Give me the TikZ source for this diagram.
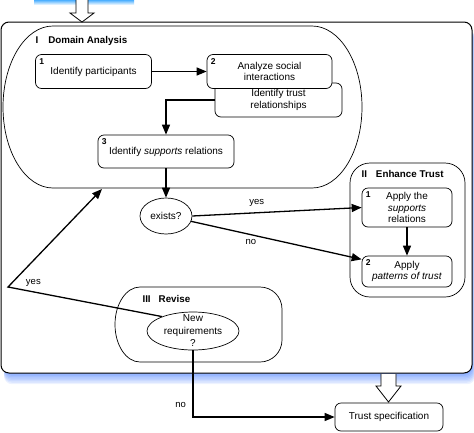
\documentclass[tikz,border=0pt]{standalone}
\usepackage{fontspec}
\setmainfont{Liberation Sans}
\usetikzlibrary{arrows.meta,
                shapes.geometric}

\tikzset{
    frame/.style = {draw, fill=white, line width=1pt, rounded corners=8pt},
    glow/.style = {fill=blue!70!cyan, opacity=0.07, rounded corners=8pt},
    phase/.style = {draw, line width=0.7pt},
    title/.style = {anchor=west, font=\bfseries\fontsize{9.8}{11}\selectfont},
    task/.style = {draw, fill=white, rounded corners=6pt, line width=0.7pt,
                   align=center, inner sep=2pt},
    decide/.style = {draw, ellipse, fill=white, line width=0.7pt,
                     align=center, inner sep=0pt},
    num/.style = {anchor=north west, inner sep=1pt, xshift=3pt, yshift=-3pt,
                  font=\bfseries\fontsize{8.5}{9}\selectfont},
    flow/.style = {line width=1.3pt, -{Triangle[length=10pt, width=8pt, fill=black]}},
    hollow/.style = {draw, fill=white, line width=0.8pt, line join=miter},
    lbl/.style = {font=\fontsize{9.5}{10}\selectfont}
}

\begin{document}
\begin{tikzpicture}[x=1pt, y=-1pt, font=\fontsize{10}{11.8}\selectfont]
        \useasboundingbox (0,0) rectangle (474,432);

        \shade [top color=blue!45!cyan!70, bottom color=white] (34,0) rectangle (134,5);
        \foreach \g in {1,...,8}
            \fill [glow] (4,30) rectangle (472+0.4*\g,373+1.4*\g);
        \path [frame] (1,22) rectangle (472,373);
        \draw [hollow] (76,0) -- (76,13) -- (70,13) -- (82,22) -- (94,13) -- (88,13) -- (88,0);
        \draw [hollow] (381,374) -- (381,386) -- (376,386) -- (388.5,402) -- (401,386) -- (396,386) -- (396,374);

        \draw [phase] (53,26) -- (312,26)
            arc [start angle=90, end angle=-90, x radius=50pt, y radius=81pt] -- (53,188)
            arc [start angle=270, end angle=90, x radius=50pt, y radius=81pt] -- cycle;
        \node [title] at (32,41) {I\hspace{10pt}Domain Analysis};

        \node [task, minimum width=127pt, minimum height=34pt] (relations) at (278.5,100) {Identify trust\\relationships};
        \node [task, minimum width=116pt, minimum height=34pt, label={[num]north west:1}] (participants) at (93.5,71.5) {Identify participants};
        \node [task, minimum width=125pt, minimum height=34pt, label={[num]north west:2}] (interactions) at (269.5,71.5) {Analyze social\\interactions};
        \node [task, minimum width=136pt, minimum height=33pt, label={[num]north west:3}] (supports) at (166,151.5) {Identify \textit{supports} relations};
        \node [decide, minimum width=52pt, minimum height=36pt] (exists) at (166,216) {exists?};

        \draw [phase, rounded corners=20pt] (350,163) rectangle (465,297);
        \node [title] at (358,174) {II\hspace{9pt}Enhance Trust};
        \node [task, minimum width=90pt, minimum height=39pt, label={[num]north west:1}] (applysup) at (407,207.5) {Apply the\\\textit{supports}\\relations};
        \node [task, minimum width=90pt, minimum height=31pt, label={[num]north west:2}] (applypat) at (407,271.5) {Apply\\\textit{patterns of trust}};

        \draw [phase] (140,287) -- (260,287)
            arc [start angle=90, end angle=0, radius=22pt] -- (282,340)
            arc [start angle=0, end angle=-90, radius=22pt] -- (140,362)
            arc [start angle=270, end angle=90, x radius=25pt, y radius=37.5pt] -- cycle;
        \node [title] at (139,299) {III\hspace{8pt}Revise};
        \node [decide, minimum width=92pt, minimum height=38pt, inner sep=-7pt,
               font=\fontsize{10}{12.5}\selectfont] (newreq) at (193,331) {New\\requirements\\?};

        \node [task, minimum width=108pt, minimum height=28pt] (spec) at (389,417) {Trust specification};

        \coordinate (yesturn) at (8,287);
        \coordinate (reentry) at (102,189);

        \draw [flow] (participants) -- (interactions);
        \draw [flow] (relations.west) -| (supports.north);
        \draw [flow] (supports) -- (exists);
        \draw [flow] (exists.east) -- node [lbl, above=2pt, pos=0.38] {yes} (applysup.west);
        \draw [flow] (exists.-12) -- node [lbl, below=1pt, pos=0.35] {no} (applypat.165);
        \draw [flow] (applysup) -- (applypat);
        \draw [flow] (newreq.155) -- (yesturn) node [lbl, anchor=west, xshift=14pt, yshift=4pt] {yes} -- (reentry);
        \draw [flow] (newreq.south) |- node [lbl, left=3pt, pos=0.41] {no} (spec.west);
    \end{tikzpicture}
\end{document}
